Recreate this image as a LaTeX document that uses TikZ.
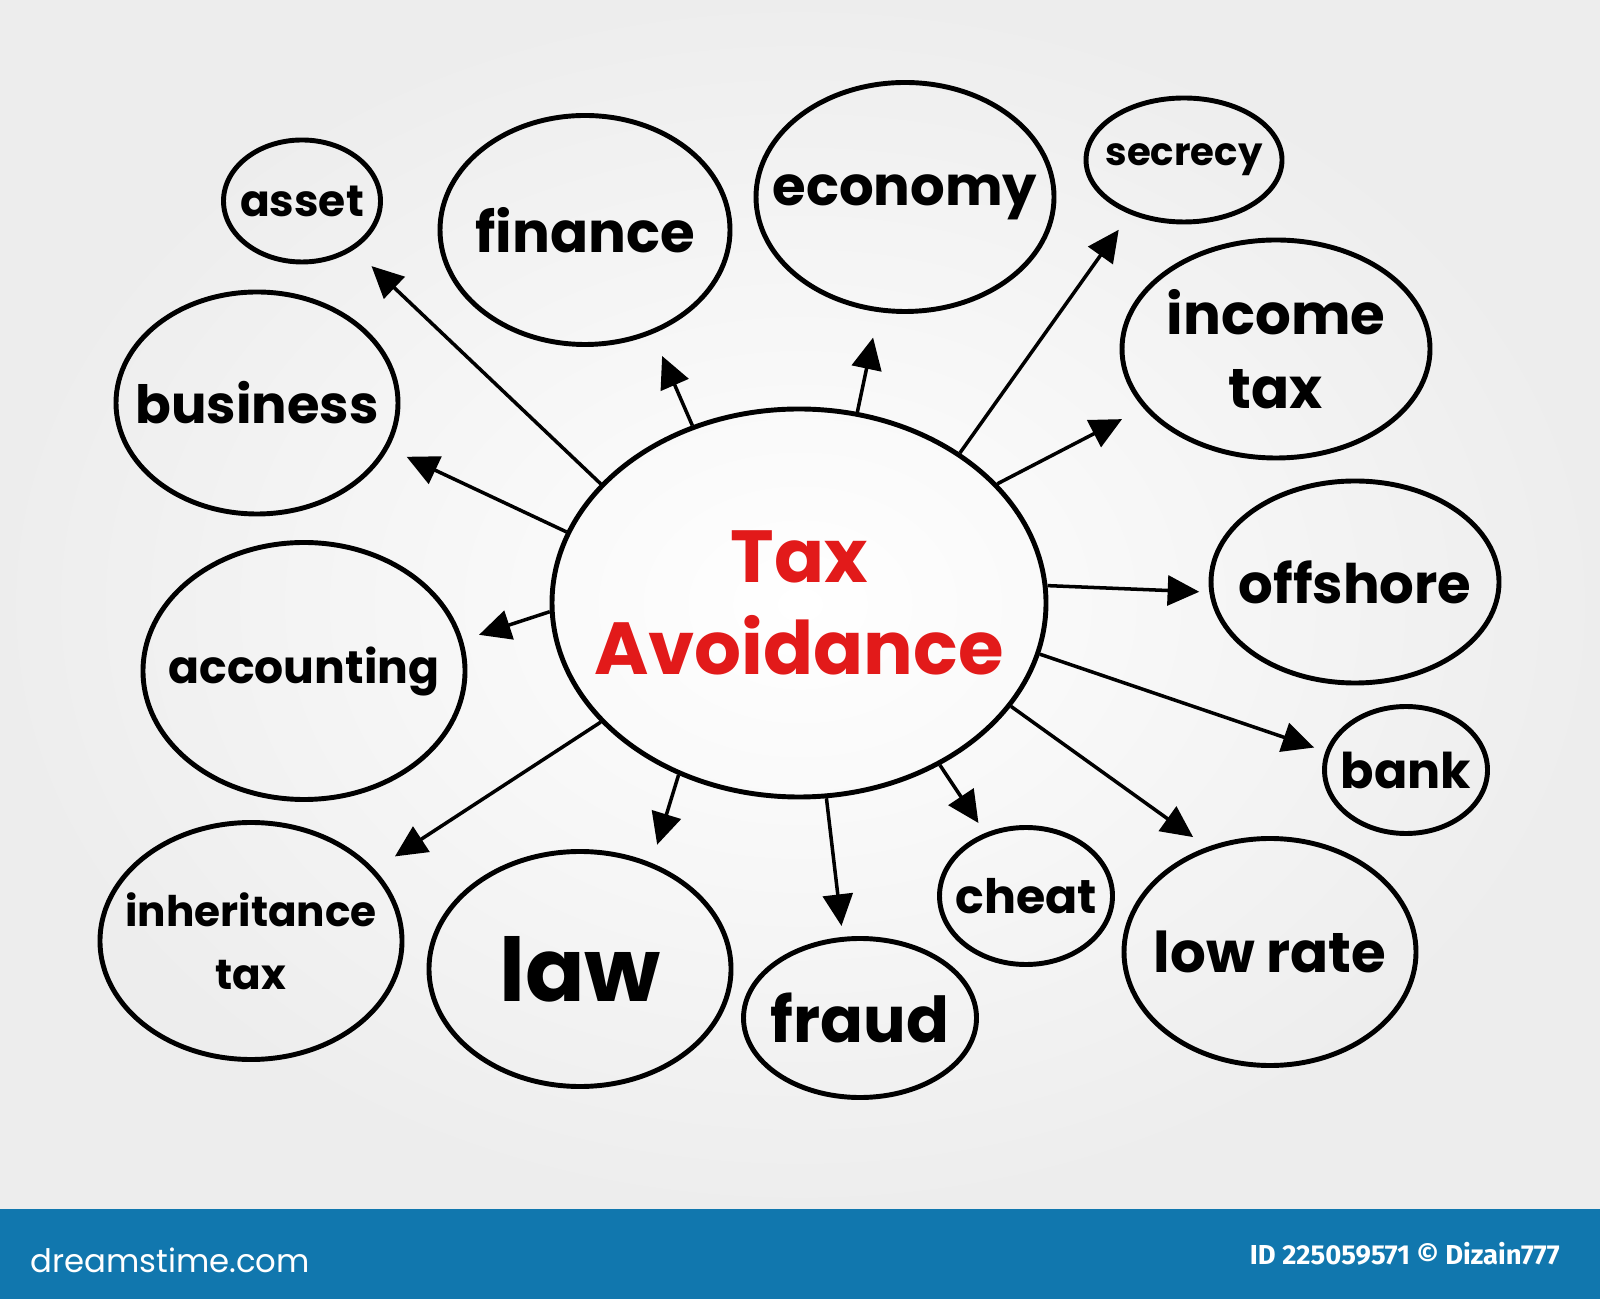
\documentclass[tikz,border=0pt]{standalone}
\usepackage{fontspec}
\newfontfamily\hand{Poppins}
\newfontfamily\stockfont{Fira Sans}
\usetikzlibrary{arrows.meta, shapes.geometric}
\definecolor{taxred}{RGB}{226,26,26}
\definecolor{stockblue}{RGB}{17,119,174}

\begin{document}
\begin{tikzpicture}[
		bubble/.style = {draw, ellipse, line width = 1.4pt, inner sep = 0pt},
		word/.style 2 args = {align = center, inner sep = 0pt, font = \hand\bfseries\fontsize{#1}{#2}\selectfont},
		arr/.style = {line width = 1pt, -{Triangle[length = 9pt, width = 8.5pt]}, shorten > = 2mm}]
			\useasboundingbox (0, 0) rectangle (16, 12.99);
			% background
			\shade[inner color = white, outer color = black!7] (0, 0.9) rectangle (16, 12.99);
			\fill[stockblue] (0, 0) rectangle (16, 0.9);
			% centre
			\node[bubble, minimum width = 4.94cm, minimum height = 3.88cm,
				label = {[word = {21}{26}, text = taxred]center:Tax\\Avoidance}] (tax) at (7.99, 6.96) {};
			% bubbles round it
			\node[bubble, minimum width = 1.57cm, minimum height = 1.22cm, label = {[word = {12.5}{14}]center:asset}] (asset) at (3.02, 10.98) {};
			\node[bubble, minimum width = 2.90cm, minimum height = 2.29cm, label = {[word = {16}{18}]center:finance}] (finance) at (5.85, 10.69) {};
			\node[bubble, minimum width = 2.98cm, minimum height = 2.29cm, label = {[word = {15.5}{18}]center:economy}] (economy) at (9.05, 11.02) {};
			\node[bubble, minimum width = 1.96cm, minimum height = 1.24cm, label = {[word = {11}{13}]center:secrecy}] (secrecy) at (11.84, 11.39) {};
			\node[bubble, minimum width = 3.08cm, minimum height = 2.18cm, label = {[word = {16}{21}]center:income\\tax}] (income) at (12.76, 9.50) {};
			\node[bubble, minimum width = 2.82cm, minimum height = 2.22cm, label = {[word = {15}{17}]center:business}] (business) at (2.57, 8.96) {};
			\node[bubble, minimum width = 2.88cm, minimum height = 2.02cm, label = {[word = {15.5}{17}]center:offshore}] (offshore) at (13.55, 7.17) {};
			\node[bubble, minimum width = 3.22cm, minimum height = 2.57cm, label = {[word = {13}{15}]center:accounting}] (accounting) at (3.04, 6.28) {};
			\node[bubble, minimum width = 1.63cm, minimum height = 1.27cm, label = {[word = {14}{16}]center:bank}] (bank) at (14.06, 5.29) {};
			\node[bubble, minimum width = 3.02cm, minimum height = 2.37cm, label = {[word = {12}{18}]center:inheritance\\tax}] (inheritance) at (2.51, 3.58) {};
			\node[bubble, minimum width = 3.02cm, minimum height = 2.35cm, label = {[word = {25}{28}]center:law}] (law) at (5.80, 3.30) {};
			\node[bubble, minimum width = 2.33cm, minimum height = 1.59cm, label = {[word = {18}{20}]center:fraud}] (fraud) at (8.60, 2.81) {};
			\node[bubble, minimum width = 1.73cm, minimum height = 1.37cm, label = {[word = {13.5}{15}]center:cheat}] (cheat) at (10.26, 4.03) {};
			\node[bubble, minimum width = 2.92cm, minimum height = 2.27cm, label = {[word = {16}{18}]center:low rate}] (lowrate) at (12.70, 3.47) {};
			% arrows
			\draw[arr, shorten > = 2.4mm] (tax.149) -- (asset.317);
			\draw[arr, shorten > = 2.4mm] (tax.121) -- (finance.303);
			\draw[arr, shorten > = 2.6mm] (tax.73) -- (economy.257);
			\draw[arr, shorten > = 1.9mm] (tax.43) -- (secrecy.225);
			\draw[arr, shorten > = 2.4mm] (tax.31) -- (income.204);
			\draw[arr] (tax.163) -- (business.341);
			\draw[arr, shorten > = 1mm] (tax.4) -- (offshore.184);
			\draw[arr, shorten > = 1.7mm] (tax.182) -- (accounting.11);
			\draw[arr, shorten > = 1.2mm] (tax.348) -- (bank.167);
			\draw[arr, shorten > = 2.4mm] (tax.211) -- (inheritance.30);
			\draw[arr, shorten > = 1.9mm] (tax.235) -- (law.56);
			\draw[arr, shorten > = 1.1mm] (tax.278) -- (fraud.102);
			\draw[arr, shorten > = 1.2mm] (tax.311) -- (cheat.123);
			\draw[arr, shorten > = 1.7mm] (tax.334) -- (lowrate.121);
			% banner texts
			\node[anchor = west, text = white, font = \hand\fontsize{9.2}{11}\selectfont] (site) at (0.18, 0.39) {dreamstime.com};
			\node[anchor = east, text = white, font = \stockfont\bfseries\fontsize{7.8}{9}\selectfont] (photoid) at (15.72, 0.45) {ID 225059571 \textcopyright{} Dizain777};
		\end{tikzpicture}
\end{document}
